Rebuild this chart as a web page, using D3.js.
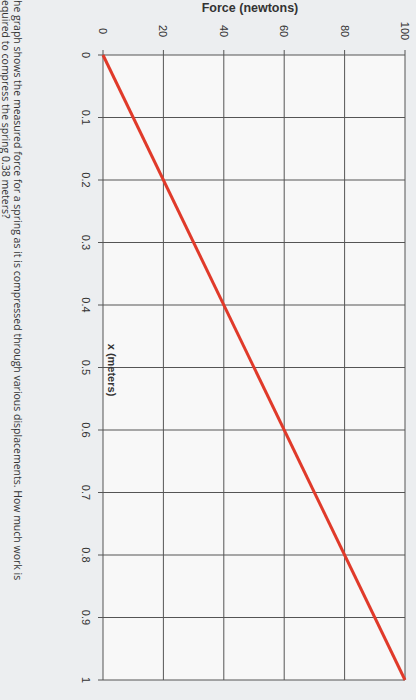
<!DOCTYPE html>
<html><head><meta charset="utf-8">
<script src="https://cdn.jsdelivr.net/npm/d3@7"></script>
<style>body{margin:0;background:#eceef0;}</style>
</head><body>
<svg id="chart" width="416" height="700"></svg>
<script>
// chart is photographed rotated: x (meters) runs down the page, force runs left to right
var xTicks = [0, 0.1, 0.2, 0.3, 0.4, 0.5, 0.6, 0.7, 0.8, 0.9, 1];
var forceTicks = [0, 20, 40, 60, 80, 100];
var lineX = [0, 1];
var lineForce = [0, 100];

var svg = d3.select("#chart");
var x = d3.scaleLinear().domain([0, 1]).range([55, 680]);
var f = d3.scaleLinear().domain([0, 100]).range([103, 405]);

svg.append("rect").attr("width", 416).attr("height", 700).attr("fill", "#eceef0");
svg.append("rect").attr("x", f(0)).attr("y", x(0)).attr("width", f(100) - f(0)).attr("height", x(1) - x(0))
  .attr("fill", "#f8f8f8");

// grid
svg.selectAll(".hx").data(xTicks).enter().append("line")
  .attr("x1", f(0) - 5).attr("x2", f(100))
  .attr("y1", function(d) { return x(d); }).attr("y2", function(d) { return x(d); })
  .attr("stroke", "#555").attr("stroke-width", 1);
svg.selectAll(".vf").data(forceTicks).enter().append("line")
  .attr("y1", x(0) - 5).attr("y2", x(1))
  .attr("x1", function(d) { return f(d); }).attr("x2", function(d) { return f(d); })
  .attr("stroke", "#555").attr("stroke-width", 1);

// tick labels, rotated with the photo
svg.selectAll(".lx").data(xTicks).enter().append("text")
  .attr("transform", function(d) { return "translate(" + 82 + "," + x(d) + ") rotate(90)"; })
  .attr("text-anchor", "middle").attr("font-family", "Liberation Sans, Arial")
  .attr("font-size", 11).attr("fill", "#333")
  .text(function(d) { return d; });
svg.selectAll(".lf").data(forceTicks).enter().append("text")
  .attr("transform", function(d) { return "translate(" + (f(d) - 4) + "," + 31 + ") rotate(90)"; })
  .attr("text-anchor", "middle").attr("font-family", "Liberation Sans, Arial")
  .attr("font-size", 11).attr("fill", "#333")
  .text(function(d) { return d; });

svg.append("text").attr("x", 250).attr("y", 12).attr("text-anchor", "middle")
  .attr("font-family", "Liberation Sans, Arial").attr("font-size", 12.5).attr("font-weight", "bold")
  .attr("fill", "#333").text("Force (newtons)");
svg.append("text").attr("transform", "translate(108,370) rotate(90)")
  .attr("text-anchor", "middle").attr("font-family", "Liberation Sans, Arial")
  .attr("font-size", 11).attr("font-weight", "bold").attr("fill", "#333").text("x (meters)");

// red line
var line = d3.line().x(function(d) { return f(d[1]); }).y(function(d) { return x(d[0]); });
svg.append("path").datum(d3.zip(lineX, lineForce)).attr("d", line)
  .attr("fill", "none").attr("stroke", "#e03a2a").attr("stroke-width", 3);

// question text
var q = ["he graph shows the measured force for a spring as it is compressed through various displacements. How much work is",
         "equired to compress the spring 0.38 meters?"];
svg.selectAll(".q").data(q).enter().append("text")
  .attr("transform", function(d, i) { return "translate(" + (14 - i * 12) + ",0) rotate(90)"; })
  .attr("font-family", "Open Sans, Liberation Sans").attr("font-size", 10.5).attr("fill", "#333")
  .text(function(d) { return d; });
</script>
</body></html>
